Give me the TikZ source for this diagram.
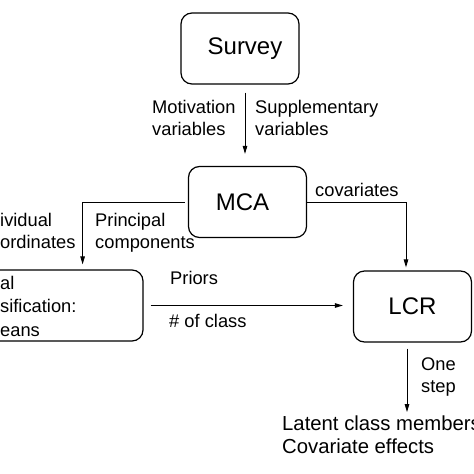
\documentclass[tikz,border=0pt]{standalone}
\usepackage{fontspec}
\setmainfont{Liberation Sans}
\usetikzlibrary{arrows.meta,positioning}

\tikzset{
  box/.style={draw,line width=1.2pt,rounded corners=11pt,minimum width=118pt,minimum height=71pt,inner sep=0pt,font=\fontsize{24}{28}\selectfont},
  lbl/.style={inner sep=0pt,anchor=base west,align=left,font=\fontsize{18.3}{22}\selectfont},
  arr/.style={->,line width=0.9pt}
}

\begin{document}
\begin{tikzpicture}[x=1pt,y=-1pt,>={Triangle[length=8pt,width=4.5pt]}]
		\useasboundingbox (0,0) rectangle (474,474);
		\clip (0,0) rectangle (474,474);
		% Boxes
		\node[box] (survey) at (240,48.5) {\hspace*{10pt}Survey};
		\node[box] (mca) at (247.5,202) {MCA\hspace*{10pt}};
		\node[box,minimum width=203pt] (cls) at (41.5,305.5) {};
		\node[box] (lcr) at (412.5,306.5) {LCR};
		
		% Labels (base = last line)
		\node[lbl] (motiv) at (152,135) {Motivation\\variables};
		\node[lbl] (suppl) at (255,135) {Supplementary\\variables};
		\node[lbl] (indiv) at (0,248) {ividual\\ordinates};
		\node[lbl] (princ) at (95,248) {Principal\\components};
		\node[lbl] (covar) at (315,196) {covariates};
		\node[lbl] (clstext) at (0,336) {al\\[1.5pt]sification:\\[1.5pt]eans};
		\node[lbl] (priors) at (170,284) {Priors};
		\node[lbl] (nclass) at (169,327) {\# of class};
		\node[lbl] (onestep) at (421,392) {One\\step};
		\node[lbl,font=\fontsize{20.3}{23}\selectfont] (result) at (282,453) {Latent class members\\Covariate effects};
		
		% Arrows
		\draw[arr] ([xshift=5pt,yshift=-8pt]survey.south) -- ([xshift=-2.5pt,yshift=12pt]mca.north);
		\draw[arr] ([xshift=-3pt]mca.west) -| ([xshift=-61pt,yshift=5pt]cls.north east);
		\draw[arr] (mca.east) -| ([xshift=-6.5pt,yshift=3pt]lcr.north);
		\draw[arr] ([xshift=7pt]cls.east) -- ([xshift=-10pt]lcr.west |- cls.east);
		\draw[arr] ([xshift=-5.5pt,yshift=-6pt]lcr.south) -- ([xshift=-5.5pt,yshift=3pt]lcr.south |- result.north);
	\end{tikzpicture}
\end{document}
